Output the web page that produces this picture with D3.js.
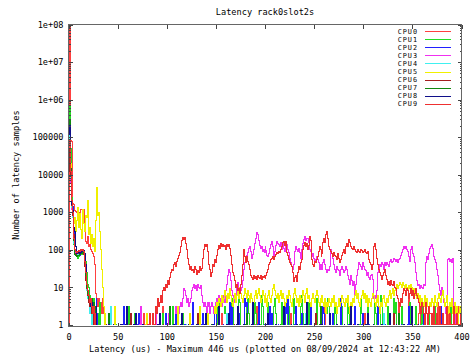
<!DOCTYPE html>
<html><head><meta charset="utf-8">
<script src="https://cdn.jsdelivr.net/npm/d3@7"></script>
<style>
html,body{margin:0;padding:0;background:#fff;}
svg text{font-family:"DejaVu Sans Mono","Liberation Mono",monospace;font-size:8.6px;fill:#000;}
svg text.leg{font-size:6.8px;letter-spacing:1px;}
</style></head><body>
<svg id="chart" width="474" height="355"></svg>
<script>
const title = "Latency rack0slot2s";
const xLabel = "Latency (us) - Maximum 446 us (plotted on 08/09/2024 at 12:43:22 AM)";
const yLabel = "Number of latency samples";
const cpuNames = ["CPU0","CPU1","CPU2","CPU3","CPU4","CPU5","CPU6","CPU7","CPU8","CPU9"];
const cpuColors = ["#ff4040","#22dd22","#2020ff","#f030f0","#40f0f0","#f0f000","#a52020","#108810","#10108a","#ee3030"];
const xTicks = [0,50,100,150,200,250,300,350,400];
const yTicks = [1,10,100,1000,10000,100000,1e6,1e7,1e8];
const yTickLabels = ["1","10","100","1000","10000","100000","1e+06","1e+07","1e+08"];

// runs: [startBin, [values...]] ; bins not listed hold no samples
const cpu0 = [
  [0,[1,1.5e8,8e4,7.5e4,1700,1600,1100,1050,1000,1050,950,1000,1150,1150,1100,1150,400,170,150,230,120,140,100,90,80,65,40,7,4,5,3,5,2,4,2,5,2,1,2]],
  [40,[1,1]],[58,[1,1]],[75,[1,2,1]],[85,[1,1]],[95,[1,3,1]],[110,[1,1]],[125,[1,2,1]],[140,[1,1]],[155,[1,2,1]],
  [175,[1,1]],[190,[1,3,1]],[205,[1,1]],[225,[1,2,1]],[245,[1,1]],[260,[1,3,1]],[280,[1,1]],[300,[1,2,1]],[320,[1,1]],
  [335,[1,4,1]],[345,[1,5,3,1]],[355,[1,2,4,1]],[365,[1,3,1]],[375,[1,4,1]],[385,[1,2,1]],[395,[1,3,1]]
];
const cpu1 = [
  [0,[3e5,7e5,5e4,2500,1300,140,130,120,70,60,65,70,80,75,90,85,80,50,25,12,10,6,5,4,3,5,2,1,3,1,2,1,4,1]],
  [48,[1,1]],[60,[1,3,1]],[66,[1,2,1]],[80,[1,1]],[95,[1,2,1]],[105,[1,3,1]],[115,[1,2,1]],[125,[1,1]],[132,[1,3,1]],
  [140,[1,2,1]],[150,[1,3,1,4,1]],[158,[2,3,2,1]],[165,[1,5,3,1]],[172,[2,6,4,1]],[180,[1,3,5,2,1]],[188,[1,4,2,1]],
  [195,[1,6,3,1]],[202,[2,4,1]],[208,[1,3,5,2,1]],[216,[1,4,1]],[222,[1,2,3,1]],[228,[1,5,2,1]],[235,[1,3,6,2,1]],
  [243,[1,4,1]],[250,[1,2,5,1]],[257,[1,3,1]],[263,[2,5,3,1]],[270,[1,4,2,1]],[277,[1,3,1]],[283,[1,6,2,1]],
  [290,[1,3,1]],[296,[1,5,2,1]],[303,[1,3,1]],[310,[1,4,2,1]],[317,[1,6,3,1]],[324,[1,3,1]],[330,[1,5,2,4,1]],
  [338,[1,3,1]],[345,[1,2,4,1]],[352,[1,3,1]],[358,[1,5,1]],[365,[1,2,1]],[372,[1,3,1]],[380,[1,2,1]],[388,[1,3,1]],[395,[1,2,1]]
];
const cpu2 = [
  [0,[1.5e5,1.2e5,1e4,1500,1400,300,90,75,72,70,75,72,78,80,85,90,70,30,12,8,5,3,5,2,1,1,3,1,5,1,2]],
  [45,[1,1]],[55,[1,3,1]],[70,[1,2,1]],[88,[1,1]],[98,[1,2,1]],[108,[1,3,1]],[118,[1,1,1]],[125,[1,4,1]],[135,[1,2,1]],
  [142,[1,1]],[148,[1,3,2,1]],[157,[1,1]],[163,[1,4,1,3,1]],[172,[1,2,1]],[178,[1,5,3,4,1]],[186,[1,2,1]],[192,[1,4,1]],
  [199,[1,1]],[204,[1,3,1,2,1]],[213,[1,1]],[220,[1,4,2,5,1]],[230,[1,3,1]],[236,[1,2,1]],[245,[1,4,1]],[252,[1,1]],
  [258,[1,3,2,1]],[268,[1,2,1]],[276,[1,5,1]],[284,[1,1]],[290,[1,3,1]],[298,[1,2,1]],[306,[1,1]],[314,[1,3,1]],
  [322,[1,1]],[330,[1,2,1]],[338,[1,1]],[345,[1,3,1]],[352,[1,1]],[360,[1,2,1]],[370,[1,1]],[378,[1,3,1]],[390,[1,1]]
];
const cpu3 = [
  [0,[1e5,8e4,6000,1200,900,200,85,80,78,82,80,88,85,90,80,95,60,25,10,6,4,3,2,1]],
  [45,[1,1]],[72,[1,3,1]],[88,[1,2,1]],[100,[1,1,2,1]],
  [108,[2,3,2,1,2,3,4,3,5,9,
        8,6,4,5,3,4,5,8,10,12,
        9,11,8,12,10,9,11,6,4,3,
        4,3,2,4,3,4,2,3,4,3,
        2,3,4,5,4,6,5,4,3,5,
        6,4,8,12,20,30,25,15,8,6,
        5,4,6,10,13,9,7,8,10,15,
        30,45,56,70,85,110,125,90,60,75,
        100,150,200,290,250,180,130,110,125,90,
        100,85,120,95,70,65,80,110,140,170,
        120,67,90,130,170,150,140,120,160,100,
        150,110,90,120,140,100,85,60,47,35,
        30,40,90,125,100,90,110,85,60,100,
        150,190,230,180,200,200,160,100,90,67,
        80,60,47,55,67,56,45,30,40,35,
        30,45,56,40,30,25,30,28,35,100,
        80,60,40,30,25,35,30,28,20,30,
        36,30,25,28,35,30,20,16,12,20,
        15,11,14,6,12,20,30,47,40,35,
        30,45,35,30,28,20,25,18,16,20,
        22,16,5,6,5,8,15,25,30,40,
        35,47,40,30,45,38,47,40,35,50,
        56,45,50,60,56,48,55,47,56,60,
        70,85,100,120,110,125,100,90,67,50,
        100,125,80,67,45,25,15,11,12,9,
        11,10,9,12,11,47,67,56,80,110,
        125,140,110,85,67,56,47,30,20,12,
        8,6,10,6,4,3,2,3,56,60,
        50,56,45,60,1,1,2,1,1,1,
        1,1,1]]
];
const cpu4 = [
  [0,[8e4,1.5e5,8000,1300,700,150,80,70,75,72,78,75,80,85,90,80,40,15,8,5,4,2,3,1,2,1]],
  [36,[1,1]],[42,[1,3,1]],[60,[1,1]],[85,[1,2,1]],[120,[1,1]],[160,[1,2,1]],[200,[1,1]],[240,[1,2,1]],
  [280,[1,1]],[320,[1,2,1]],[360,[1,1]]
];
const cpu5 = [
  [0,[2e5,2.5e5,2e4,1800,900,500,700,300,600,1300,400,900,350,200,1200,500,300,800,700,2000,250,400,150,250,120,200,90,600,1500,4500,800,1000,300,100,30,10,3,1,2]],
  [46,[1,3,1]],[64,[1,1]],[78,[1,2,1]],[92,[1,1]],[110,[1,3,1]],[122,[1,2,1]],[132,[1,3,1]],[140,[1,2,1]],
  [148,[2,3,2,4,3,5,4,3,6,4,
        5,8,6,4,7,5,9,6,4,3,
        5,7,4,6,8,5,10,7,5,4,
        6,9,7,5,8,6,4,7,5,3,
        4,6,8,5,7,9,6,4,5,8,
        6,4,7,5,3,6,8,5,4,6,
        9,12,8,6,5,7,4,6,8,5,
        7,5,3,4,6,5,8,6,4,3,
        5,7,9,6,4,5,3,6,4,5,
        8,6,4,7,9,5,6,4,3,5,
        7,5,4,6,8,6,4,3,5,4,
        6,4,3,5,2,4,3,5,4,3,
        5,4,6,3,4,2,3,5,3,4,
        6,5,4,3,5,4,6,3,2,4,
        3,5,4,6,8,5,7,4,3,5,
        6,8,5,7,4,6,3,5,4,3,
        5,7,6,4,3,5,4,6,3,2,
        4,3,5,6,4,3,5,4,6,8,
        5,7,9,6,8,10,12,9,11,13,
        12,10,13,11,9,12,10,8,11,9,
        12,10,8,9,7,6,5,7,4,6,
        3,5,4,3,6,4,5,3,2,4,
        3,5,4,2,3,6,4,3,5,7,
        5,4,6,8,5,3,4,6,3,2,
        4,3,5,2,3,4,2,3,1,2,
        3,2,1]]
];
const cpu6 = [
  [0,[5e4,1.2e4,9000,1500,800,250,80,75,78,80,85,80,88,90,85,75,35,15,9,6,4,3,4,2,3,1,2]],
  [38,[1,1]],[62,[1,2,1]],[96,[1,1]],[130,[1,2,1]],[168,[1,1]],[210,[1,1]],[250,[1,2,1]],[290,[1,1]],[330,[1,2,1]],[370,[1,1]]
];
const cpu7 = [
  [0,[2e5,3e5,1.5e4,1800,1000,180,75,70,65,72,70,75,80,78,82,85,55,20,10,7,5,4,3,5,2,4,1,3,1]],
  [40,[1,2,1]],[68,[1,1]],[102,[1,3,1]],[145,[1,1]],[180,[1,2,1]],[215,[1,1]],[255,[1,3,1]],[295,[1,1]],[335,[1,2,1]],[375,[1,1]]
];
const cpu8 = [
  [0,[1.2e5,2e5,1.2e4,1600,1100,400,300,120,80,85,82,80,85,90,92,95,80,40,12,8,6,5,3,4,2,3,1,2,3,1]],
  [40,[1,1,1]],[45,[1,1]],[52,[1,1,1,1]],[58,[1,3,1]],[66,[1,1,2,1]],[75,[1,1,1]],[82,[1,1]],[90,[1,1,1,2,1]],
  [100,[1,1]],[106,[1,1,1]],[113,[1,1,2,1]],[122,[1,1]],[130,[1,1,1,1]],[138,[1,2,1]],[146,[1,1,1]],[152,[1,3,1]],
  [160,[1,1,1,2,1]],[170,[1,1,3,1]],[178,[1,1,1]],[186,[1,4,1,1]],[194,[1,1]],[200,[1,1,1,2,1]],[210,[1,1,1]],
  [218,[1,3,1]],[226,[1,1]],[232,[1,1,1]],[240,[1,1,4,1]],[250,[1,1]],[256,[1,1,1,1]],[265,[1,2,1]],[272,[1,1,1]],
  [280,[1,1]],[286,[1,3,1,1]],[294,[1,1,1]],[302,[1,1,2,1]],[310,[1,1]],[318,[1,1,1]],[326,[1,2,1]],[333,[1,1]],
  [340,[1,1,1,1]],[348,[1,3,1]],[356,[1,1]],[362,[1,1,1]],[370,[1,1,2,1]],[378,[1,1]],[386,[1,1,1]],[394,[1,1]]
];
const cpu9 = [
  [0,[6e4,8e4,1.2e4,2000,1000,200,100,90,85,90,95,90,100,95,100,90,50,25,12,8,6,4,5,3,2,3,1,2]],
  [80,[1,1,2,1,0,1,2,1,1,3,
       2,5,3,4,6,4,8,10,8,12,
       10,15,12,18,25,30,28,40,47,35,
       50,60,70,85,120,180,215,190,210,150,
       100,60,40,30,35,28,30,25,35,30,
       22,28,25,35,28,32,60,100,140,120,
       140,90,60,40,30,19,25,40,35,56,
       45,70,100,130,110,150,120,140,125,130,
       100,140,125,140,110,70,40,25,20,15,
       10,12,8,9,7,12,20,40,100,67,
       47,67,50,40,30,20,18,16,20,17,
       19,16,20,18,17,20,16,19,18,20,
       17,20,25,30,40,47,56,60,67,56,
       67,75,85,80,90,85,100,120,160,170,
       130,170,85,70,56,47,40,36,25,14,
       18,20,14,25,36,30,47,56,100,130,
       160,125,150,100,130,230,180,56,40,36,
       50,47,56,67,90,125,100,67,80,160,
       200,160,250,300,200,125,100,90,80,67,
       85,70,67,56,80,60,47,56,70,85,
       100,80,125,150,125,190,160,125,110,100,
       125,100,90,85,100,90,85,100,95,85,
       90,100,85,80,90,56,47,40,30,40,
       125,150,100,60,47,40,30,25,20,16,
       20,25,30,20,16,12,14,11,15,12,
       11,14,10,9,6,5,4,3,5,4,
       7,9,8,6,9,8,5,7,9,6,
       8,5,7,9,6,5,4,3,2,4,
       3,2,1,4,2,1,3,2,2,1,
       2,1,3,1,1,2,1,1,3,1,
       1,2,1,1,1,3,1,1,2,1,
       1,1,3,1,1,2,1,1,1,2,1]]
];
const cpuRuns = [cpu0,cpu1,cpu2,cpu3,cpu4,cpu5,cpu6,cpu7,cpu8,cpu9];

const W = 474, H = 355;
const pLeft = 68.5, pRight = 461.5, pTop = 24.5, pBottom = 326.5;
const svg = d3.select("#chart");
svg.append("rect").attr("width",W).attr("height",H).attr("fill","#fff");

const x = d3.scaleLinear().domain([0,400]).range([pLeft,pRight]);
const y = d3.scaleLog().domain([0.9,1e8]).range([pBottom,pTop]);

const maxBin = 400;
const series = cpuRuns.map(runs => {
  const arr = new Array(maxBin+1).fill(0);
  runs.forEach(([s, vals]) => vals.forEach((v,i) => { if (s+i <= maxBin) arr[s+i] = v; }));
  return arr.map((v,i) => [i,v]);
});

svg.append("clipPath").attr("id","clip").append("rect")
  .attr("x",pLeft).attr("y",pTop).attr("width",pRight-pLeft).attr("height",pBottom-pTop);

const line = d3.line()
  .defined(d => d[1] > 0)
  .x(d => x(d[0])).y(d => y(d[1]))
  .curve(d3.curveStepAfter);

const g = svg.append("g").attr("clip-path","url(#clip)");
series.forEach((s,i) => {
  g.append("path").datum(s).attr("d",line)
    .attr("fill","none").attr("stroke",cpuColors[i]).attr("stroke-width",1)
    .attr("shape-rendering","crispEdges");
});

const fmtY = d => yTickLabels[yTicks.indexOf(d)];
const xAxisB = d3.axisBottom(x).tickValues(xTicks).tickSizeInner(-4).tickSizeOuter(0).tickPadding(7);
const xAxisT = d3.axisTop(x).tickValues(xTicks).tickSizeInner(-4).tickSizeOuter(0).tickFormat("");
const yAxisL = d3.axisLeft(y).tickValues(yTicks).tickFormat(fmtY).tickSizeInner(-4).tickSizeOuter(0).tickPadding(5);
const yAxisR = d3.axisRight(y).tickValues(yTicks).tickFormat("").tickSizeInner(-4).tickSizeOuter(0);
const minorVals = [];
for (let e = 0; e < 8; e++) for (let m = 2; m <= 9; m++) minorVals.push(m*Math.pow(10,e));
const yMinorL = d3.axisLeft(y).tickValues(minorVals).tickFormat("").tickSizeInner(-2).tickSizeOuter(0);
const yMinorR = d3.axisRight(y).tickValues(minorVals).tickFormat("").tickSizeInner(-2).tickSizeOuter(0);

function styleAxis(sel){
  sel.select(".domain").remove();
  sel.selectAll("line").attr("stroke","#444").attr("shape-rendering","crispEdges");
  sel.selectAll("text").attr("font-family",null).attr("font-size",null).attr("fill","#000");
}
svg.append("g").attr("transform",`translate(0,${pBottom})`).call(xAxisB).call(styleAxis);
svg.append("g").attr("transform",`translate(0,${pTop})`).call(xAxisT).call(styleAxis);
svg.append("g").attr("transform",`translate(${pLeft},0)`).call(yAxisL).call(styleAxis);
svg.append("g").attr("transform",`translate(${pRight},0)`).call(yAxisR).call(styleAxis);
svg.append("g").attr("transform",`translate(${pLeft},0)`).call(yMinorL).call(styleAxis);
svg.append("g").attr("transform",`translate(${pRight},0)`).call(yMinorR).call(styleAxis);

svg.append("rect").attr("x",pLeft).attr("y",pTop).attr("width",pRight-pLeft).attr("height",pBottom-pTop)
  .attr("fill","none").attr("stroke","#666").attr("stroke-width",1).attr("shape-rendering","crispEdges");

svg.append("text").attr("x",265).attr("y",15).attr("text-anchor","middle").text(title);
svg.append("text").attr("x",265).attr("y",352).attr("text-anchor","middle").text(xLabel);
svg.append("text").attr("transform","translate(19,175) rotate(-90)").attr("text-anchor","middle").text(yLabel);

cpuNames.forEach((name,i) => {
  const ly = 31 + i*8.1;
  svg.append("text").attr("class","leg").attr("x",418).attr("y",ly+2.5).attr("text-anchor","end").text(name);
  svg.append("line").attr("x1",425).attr("x2",451).attr("y1",Math.round(ly)+0.5).attr("y2",Math.round(ly)+0.5)
    .attr("stroke",cpuColors[i]).attr("stroke-width",1).attr("shape-rendering","crispEdges");
});
</script>
</body></html>
